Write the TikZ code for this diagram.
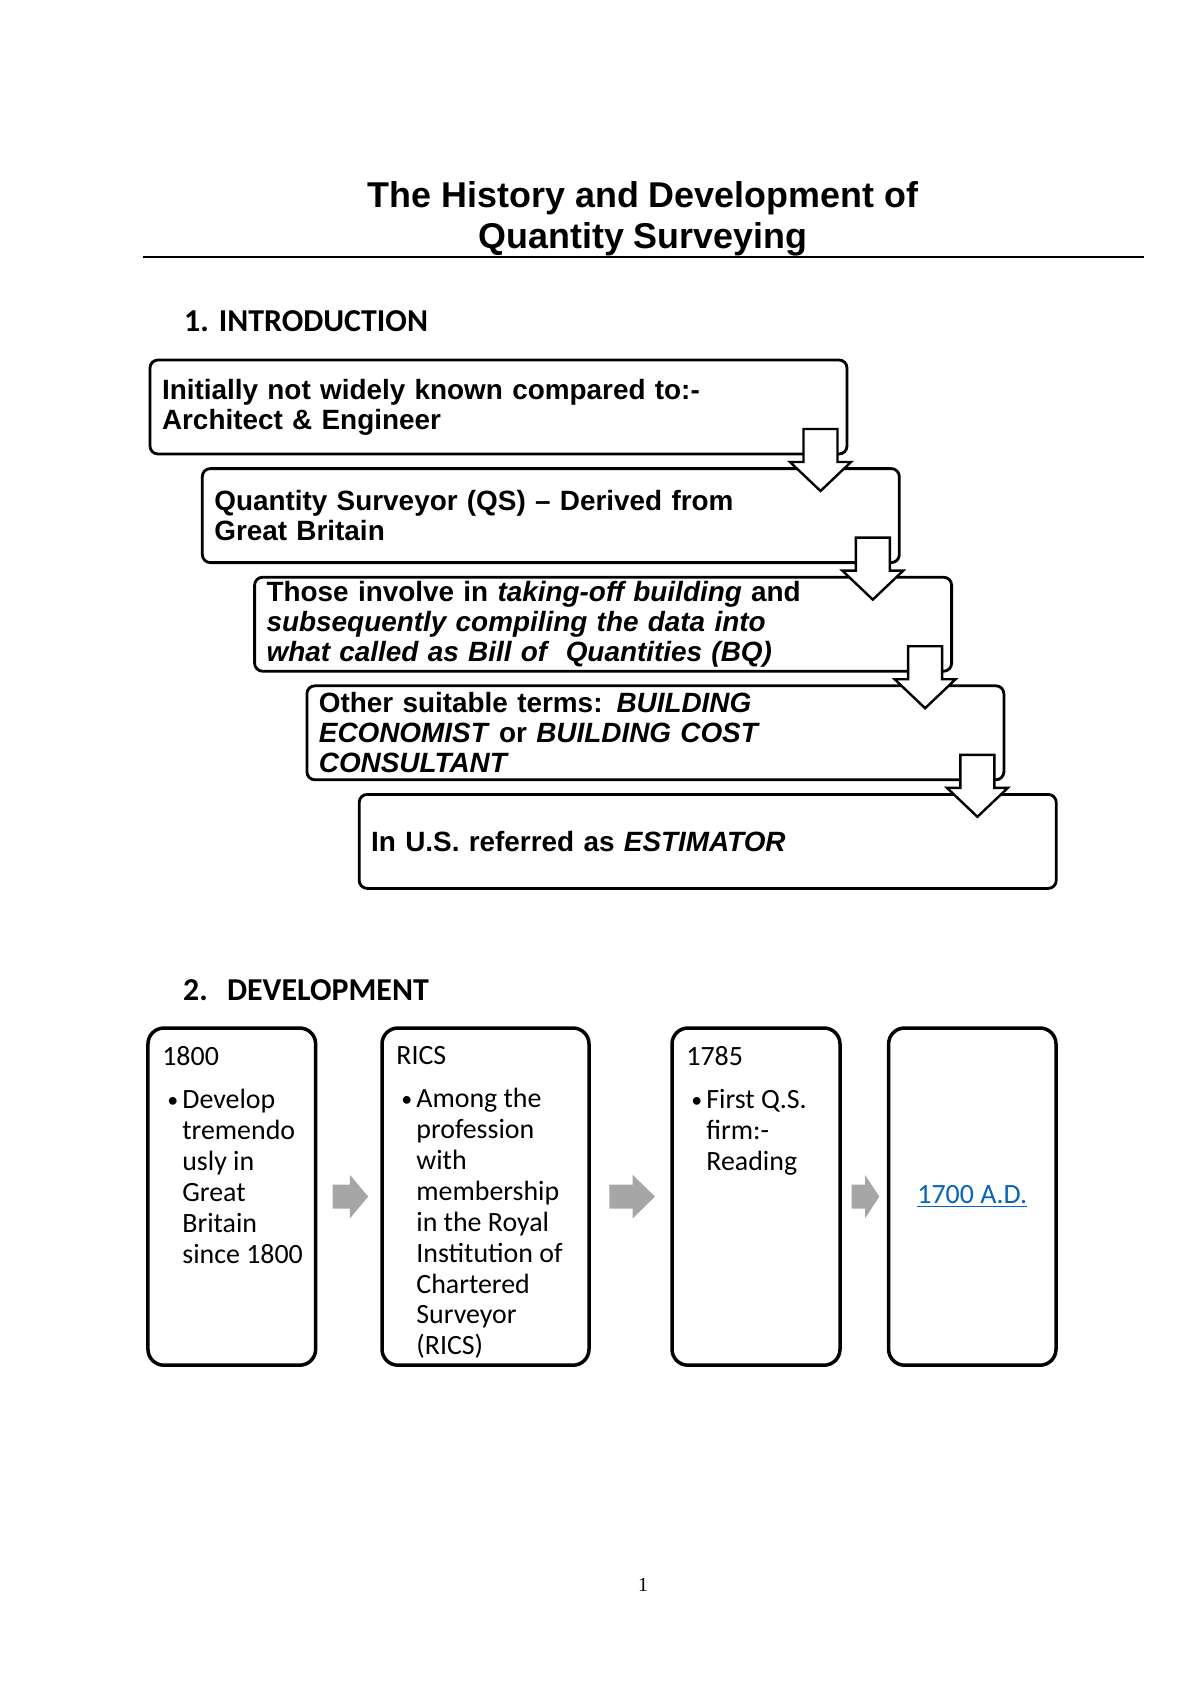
\documentclass[tikz,border=0pt]{standalone}
\usepackage{fontspec}
\newfontfamily\arialfont{Liberation Sans}
\newfontfamily\calibrifont{Carlito}
\newfontfamily\pagefont{Liberation Serif}
\definecolor{linkblue}{HTML}{0563C1}
\definecolor{arrowgray}{HTML}{A6A6A6}
\newcommand{\devbullet}[1]{\hspace*{2.5bp}\makebox[7.5bp][l]{\raisebox{0.8bp}{\fontsize{11}{12}\selectfont\textbullet}}\begin{tabular}[t]{@{}l@{}}#1\end{tabular}}

\begin{document}
\begin{tikzpicture}[
	introbox/.style={draw, fill=white, line width=1.4bp, rounded corners=4bp, outer sep=0pt,
		minimum width=348.5bp, minimum height=47bp, text width=336.5bp, inner xsep=6bp, inner ysep=1bp,
		align=left, font=\arialfont\bfseries\fontsize{14}{15}\selectfont},
	devbox/.style={draw, line width=1.75bp, rounded corners=8bp, outer sep=0pt, inner sep=0pt,
		minimum height=168.6bp, font=\calibrifont\fontsize{14}{15.5}\selectfont},
	devtext/.style={anchor=north west, inner sep=0pt, align=left, font=\calibrifont\fontsize{14}{15.5}\selectfont},
	downarrow/.style={draw, fill=white, line width=1.2bp},
	heading/.style={anchor=west, inner sep=0pt, font=\calibrifont\bfseries\fontsize{16}{19}\selectfont}]
	\useasboundingbox (0bp,0bp) rectangle (600bp,-848bp);

	\node (title) at (321.5bp,-109.5bp) [align=center, font=\arialfont\bfseries\fontsize{18}{20.6}\selectfont]
		{The History and Development of\\Quantity Surveying};
	\draw [line width=1.2bp] (71.3bp,-128.6bp) -- (571.8bp,-128.6bp);

	% introduction
	\node (intro) at (91.9bp,-160.5bp) [heading] {\makebox[17.3bp][l]{1.}INTRODUCTION};
	\node (b1) at (249.25bp,-203.5bp) [introbox] {Initially not widely known compared to:-\\Architect \& Engineer};
	\node (b2) at (275.4bp,-257.8bp)  [introbox] {Quantity Surveyor (QS) \textendash{} Derived from\\Great Britain};
	\node (b3) at (301.55bp,-312.1bp) [introbox] {Those involve in \textit{taking-off building} and\\
		\textit{subsequently compiling the data into}\\\textit{what called as Bill of\ \ Quantities (BQ)}};
	\node (b4) at (327.7bp,-366.4bp)  [introbox] {Other suitable terms: \textit{BUILDING}\\
		\textit{ECONOMIST} or \textit{BUILDING COST}\\\textit{CONSULTANT}};
	\node (b5) at (353.85bp,-420.7bp) [introbox] {In U.S. referred as \textit{ESTIMATOR}};

	\foreach \i in {1,...,4}
		\draw [downarrow] ([xshift=-21.75bp,yshift=12.5bp]b\i.south east) -- ++(17bp,0) -- ++(0,-16.5bp)
			-- ++(6.75bp,0) -- ++(-15.25bp,-14.5bp) -- ++(-15.25bp,14.5bp) -- ++(6.75bp,0) -- cycle;

	% development
	\node (devel) at (91.4bp,-495bp) [heading] {\makebox[21.95bp][l]{2.}DEVELOPMENT};
	\node (t1) at (115.9bp,-598.3bp)  [devbox, minimum width=83.85bp] {};
	\node (t2) at (242.75bp,-598.3bp) [devbox, minimum width=103.5bp] {};
	\node (t3) at (378bp,-598.3bp)    [devbox, minimum width=84bp] {};
	\node (t4) at (486.15bp,-598.3bp) [devbox, minimum width=83.7bp, text=linkblue] {\underline{1700 A.D.}};

	\node (t1txt) at ([shift={(7bp,-9.15bp)}]t1.north west) [devtext]
		{1800\\[6bp]\devbullet{Develop\\tremendo\\usly in\\Great\\Britain\\since 1800}};
	\node (t2txt) at ([shift={(7bp,-9.15bp)}]t2.north west) [devtext]
		{RICS\\[6bp]\devbullet{Among the\\profession\\with\\membership\\in the Royal\\Institution of\\Chartered\\Surveyor\\(RICS)}};
	\node (t3txt) at ([shift={(7bp,-9.15bp)}]t3.north west) [devtext]
		{1785\\[6bp]\devbullet{First Q.S.\\firm:-\\Reading}};

	\foreach \src/\gp/\sh/\hd in {t1/8.5/8.65/9.15, t2/10.15/11.7/11.15, t3/5.85/6.65/7.15}
		\fill [arrowgray] ([xshift=\gp bp,yshift=6bp]\src.east) -- ++(\sh bp,0) -- ++(0,4.85bp)
			-- ++(\hd bp,-10.85bp) -- ++(-\hd bp,-10.85bp) -- ++(0,4.85bp) -- ++(-\sh bp,0) -- cycle;

	\node (pagenum) at (321.5bp,-792.5bp) [font=\pagefont\fontsize{10}{12}\selectfont] {1};
\end{tikzpicture}
\end{document}
